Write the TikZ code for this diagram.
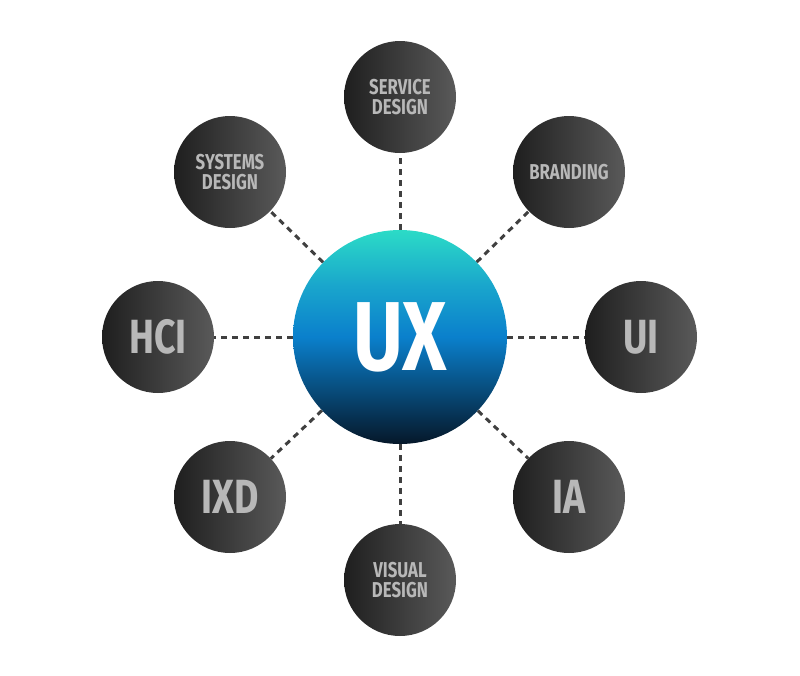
\documentclass[tikz,border=0pt]{standalone}
\usepackage{fontspec}
\setmainfont{Fira Sans}[FakeStretch=0.78]
\definecolor{lab}{HTML}{B8B8B8}
\pgfdeclareverticalshading{uxshade}{100bp}{
  rgb(0bp)=(0.02,0.09,0.16);
  rgb(25bp)=(0.02,0.09,0.16);
  rgb(50bp)=(0.04,0.50,0.80);
  rgb(62bp)=(0.10,0.65,0.80);
  rgb(75bp)=(0.17,0.86,0.78);
  rgb(100bp)=(0.17,0.86,0.78)}
\begin{document}
\begin{tikzpicture}[x=1pt,y=-1pt,
  sat/.style={circle,minimum size=112pt,inner sep=0pt,left color=black!88,right color=black!65,
    text=lab,font=\bfseries\fontsize{21.5}{20}\selectfont,align=center},
  big/.style={sat,font=\bfseries\fontsize{48}{48}\selectfont},
  link/.style={draw=black!75,line width=3pt,dash pattern=on 6pt off 5pt}]
\useasboundingbox (0,0) rectangle (800,675);
\node[circle,minimum size=214pt,inner sep=0pt,shading=uxshade,
  text=white,font=\bfseries\fontsize{98}{98}\selectfont] (ux) at (400,337) {UX};
\node[sat] (sd) at (400,97) {SERVICE\\DESIGN};
\node[sat] (br) at (569,172) {BRANDING};
\node[big] (ui) at (641,337) {UI};
\node[big] (ia) at (569,497) {IA};
\node[sat] (vd) at (400,580) {VISUAL\\DESIGN};
\node[big] (ixd) at (230,497) {IXD};
\node[big] (hci) at (158,337) {HCI};
\node[sat] (sy) at (230,172) {SYSTEMS\\DESIGN};
\foreach \n in {sd,br,ui,ia,vd,ixd,hci,sy} \draw[link] (ux) -- (\n);
\end{tikzpicture}
\end{document}
